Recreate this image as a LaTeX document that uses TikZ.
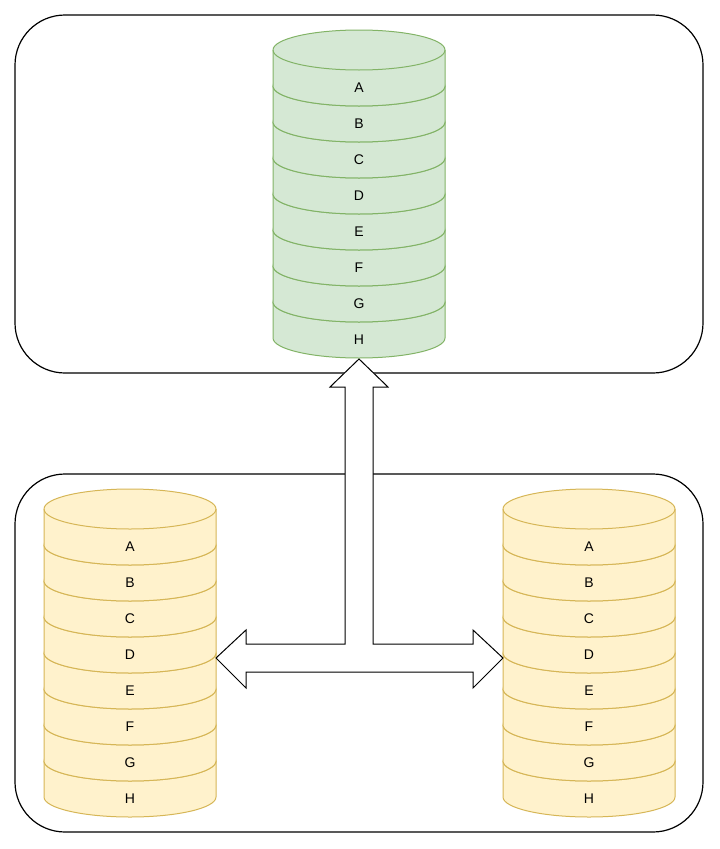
\documentclass[tikz,border=0pt]{standalone}
\usepackage{fontspec}
\setmainfont{Liberation Sans}
\definecolor{gfill}{HTML}{D5E8D4}\definecolor{gline}{HTML}{82B366}
\definecolor{yfill}{HTML}{FFF2CC}\definecolor{yline}{HTML}{D6B656}
\tikzset{box/.style={draw=black,line width=1.2pt,rounded corners=50pt},
lbl/.style={font=\fontsize{14}{16}\selectfont,inner sep=0pt},
arr/.style={draw=black,fill=white,line width=1pt,line join=miter}}
\newcommand{\stackcyl}[5]{% #1 x0, #2 top y, #3 fill, #4 line, #5 name
 \foreach \k [count=\i] in {7,6,...,0}{
  \pgfmathsetmacro{\yt}{#2+20+36*\k}
  \filldraw[fill=#3,draw=#4,line width=1pt] (#1,\yt) -- (#1,\yt+36) arc[start angle=180,end angle=0,x radius=86,y radius=20] -- (#1+172,\yt) arc[start angle=0,end angle=-180,x radius=86,y radius=20] -- cycle;
  \draw[draw=#4,line width=1pt] (#1,\yt) arc[start angle=180,end angle=0,x radius=86,y radius=20];
 }
 \foreach \l [count=\i from 0] in {A,B,C,D,E,F,G,H}{
  \node[lbl] (#5\l) at (#1+86,#2+58+36*\i) {\l};
 }
}
\begin{document}
\begin{tikzpicture}[x=1pt,y=-1pt]
\useasboundingbox (0,0) rectangle (720,849);
\draw[box] (15,15) rectangle (703,373);
\draw[box] (15,474) rectangle (703,832);
\stackcyl{273}{30}{gfill}{gline}{g}
\stackcyl{44}{489}{yfill}{yline}{l}
\stackcyl{503}{489}{yfill}{yline}{r}
\draw[arr] (359,359) -- (388,387) -- (373,387) -- (373,644) -- (473,644) -- (473,630) -- (503,658) -- (473,688) -- (473,672) -- (246,672) -- (246,688) -- (216,658) -- (246,630) -- (246,644) -- (345,644) -- (345,387) -- (330,387) -- cycle;
\end{tikzpicture}
\end{document}
